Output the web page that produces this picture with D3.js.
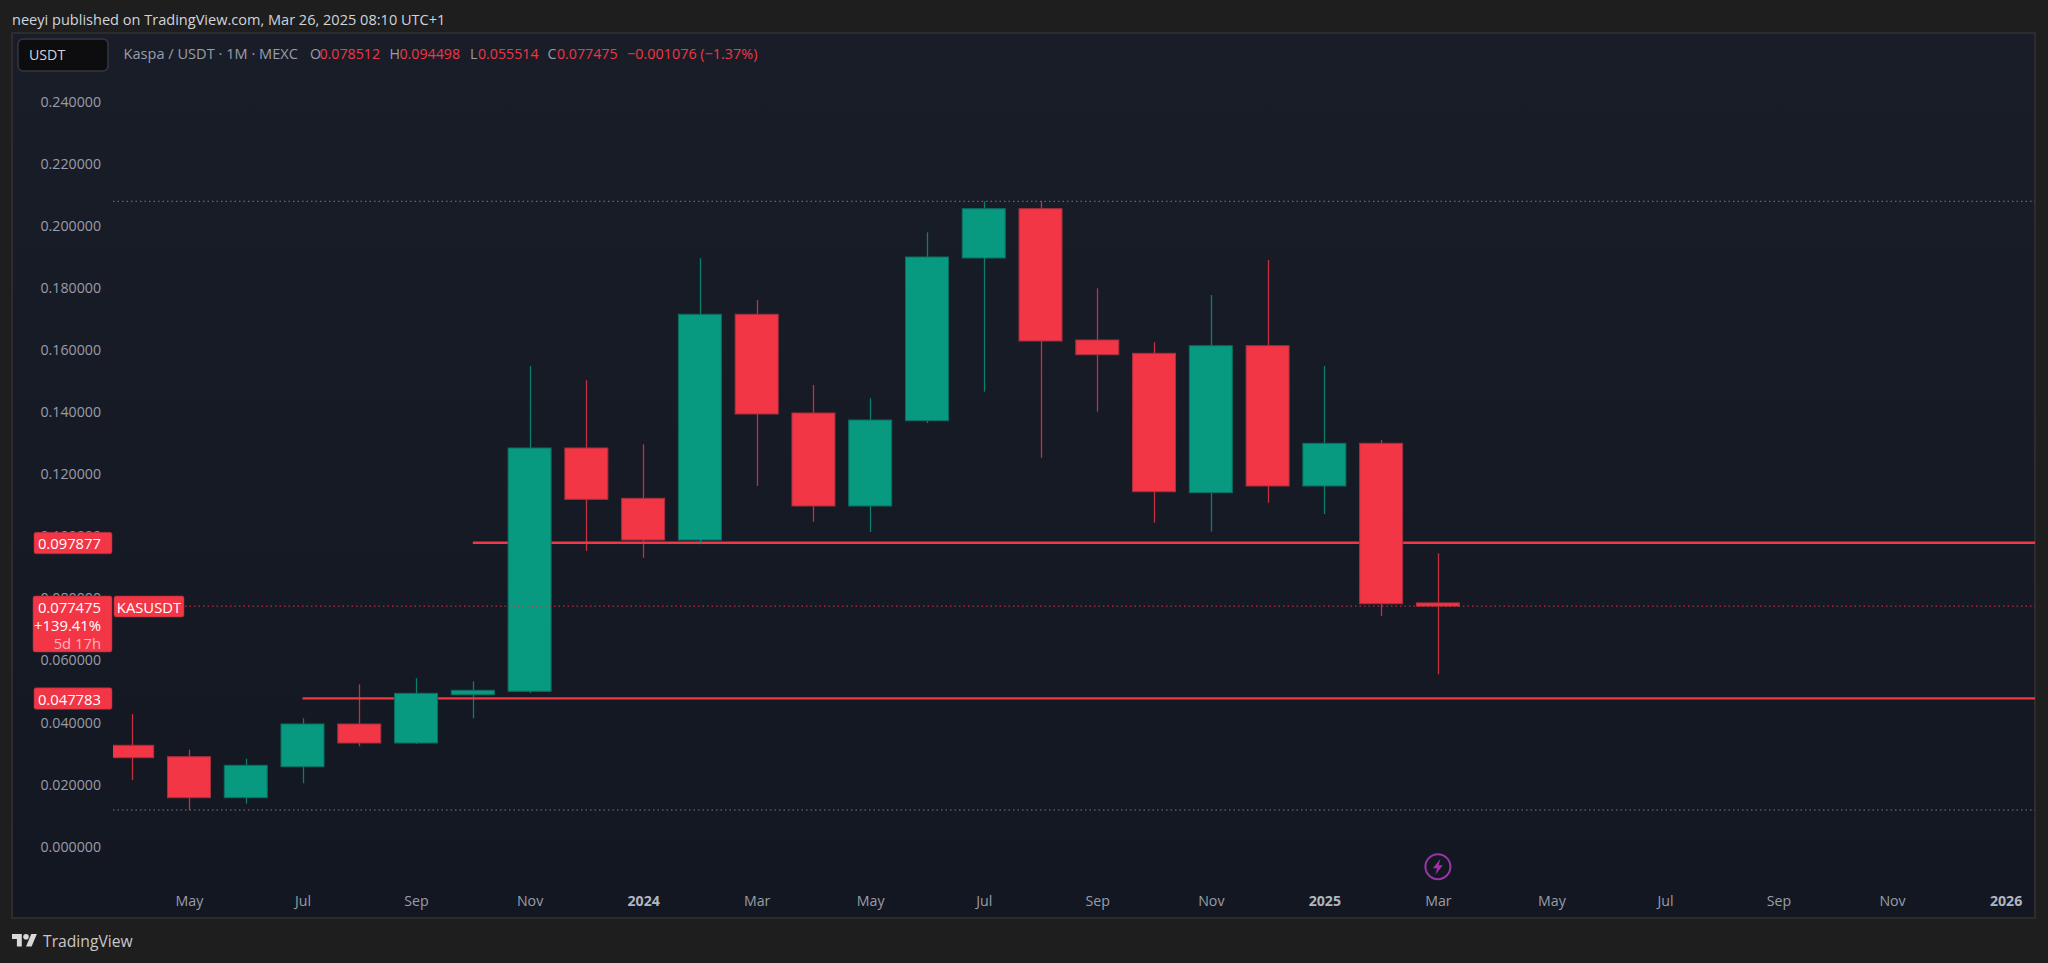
<!DOCTYPE html>
<html>
<head>
<meta charset="utf-8">
<title>Kaspa / USDT monthly</title>
<script src="https://cdn.jsdelivr.net/npm/d3@7/dist/d3.min.js"></script>
<style>
  html, body { margin: 0; padding: 0; background: #1e1e1e; overflow: hidden; }
  svg { display: block; }
  text { font-family: "Open Sans", "Noto Sans", sans-serif; }
</style>
</head>
<body>
<script>
// Monthly candles, Apr 2023 to Mar 2025
const candleMonths = ["2023-04","2023-05","2023-06","2023-07","2023-08","2023-09","2023-10","2023-11","2023-12",
  "2024-01","2024-02","2024-03","2024-04","2024-05","2024-06","2024-07","2024-08","2024-09","2024-10","2024-11","2024-12",
  "2025-01","2025-02","2025-03"];
const opens  = [0.03266,0.02899,0.01578,0.02576,0.03952,0.03340,0.04895,0.05005,0.12841,
  0.11220,0.09878,0.17147,0.13968,0.10973,0.13720,0.18960,0.20548,0.16319,0.15890,0.11401,0.16135,
  0.11617,0.12992,0.078512];
const highs  = [0.04274,0.03124,0.02834,0.04135,0.05230,0.05433,0.05327,0.15481,0.15021,
  0.12960,0.18950,0.17607,0.14870,0.14441,0.19787,0.20786,0.20786,0.17984,0.16245,0.17768,0.18895,
  0.15481,0.13098,0.094498];
const lows   = [0.02148,0.01182,0.01385,0.02042,0.03233,0.03308,0.04135,0.04950,0.09523,
  0.09308,0.09739,0.11617,0.10467,0.10135,0.13646,0.14654,0.12528,0.14010,0.10435,0.10145,0.11079,
  0.10715,0.07430,0.055514];
const closes = [0.02866,0.01578,0.02622,0.03952,0.03340,0.04940,0.05037,0.12841,0.11188,
  0.09878,0.17147,0.13936,0.10973,0.13742,0.18992,0.20548,0.16287,0.15845,0.11433,0.16135,0.11617,
  0.12992,0.07826,0.077475];

// Time axis slots, one per month through Jan 2026
const axisMonths = d3.utcMonths(new Date(Date.UTC(2023,3,1)), new Date(Date.UTC(2026,1,1))).map(d3.utcFormat("%Y-%m"));
const timeTicks = ["2023-05","2023-07","2023-09","2023-11","2024-01","2024-03","2024-05","2024-07","2024-09","2024-11",
  "2025-01","2025-03","2025-05","2025-07","2025-09","2025-11","2026-01"];
const priceTicks = [0,0.02,0.04,0.06,0.08,0.10,0.12,0.14,0.16,0.18,0.20,0.22,0.24];

// Drawn levels
const solidLevels = [{value:0.097877, from:"2023-10"}, {value:0.047783, from:"2023-07"}];
const dottedLevels = [0.20786, 0.01182];
const lastPrice = 0.077475;

const W = 2048, H = 963;
const pane = {left:12, top:33, right:2035, bottom:918};
const plotLeft = 113;

const GREEN = "#089981", RED = "#f23645";

const svg = d3.select("body").append("svg").attr("width", W).attr("height", H);
const defs = svg.append("defs");

const grad = defs.append("linearGradient").attr("id","paneFill").attr("x1",0).attr("y1",0).attr("x2",0).attr("y2",1);
grad.append("stop").attr("offset","0%").attr("stop-color","#191d28");
grad.append("stop").attr("offset","100%").attr("stop-color","#131722");

defs.append("clipPath").attr("id","plotClip").append("rect")
  .attr("x",plotLeft).attr("y",pane.top).attr("width",pane.right-plotLeft).attr("height",pane.bottom-pane.top);

const x = d3.scalePoint().domain(axisMonths).range([132.2, 2005.6]);
const y = d3.scaleLinear().domain([0,0.24]).range([846.7, 101.5]);

// Page and pane frame
svg.append("rect").attr("width",W).attr("height",H).attr("fill","#1e1e1e");
svg.append("rect").attr("x",pane.left).attr("y",pane.top)
  .attr("width",pane.right-pane.left).attr("height",pane.bottom-pane.top)
  .attr("fill","url(#paneFill)").attr("stroke","#2c2c2c").attr("stroke-width",2);

const labelColor = "#9a9da8";
const tickFont = 14.2;

// Price axis
const yAxis = svg.append("g").attr("transform","translate(101,0)")
  .call(d3.axisLeft(y).tickValues(priceTicks).tickFormat(d3.format(".6f")).tickSize(0).tickPadding(0));
yAxis.select(".domain").remove();
yAxis.selectAll("text").attr("fill",labelColor).attr("font-size",tickFont)
  .style("font-family",'"Open Sans", sans-serif');

// Time axis
const xAxis = svg.append("g").attr("transform","translate(0,896)")
  .call(d3.axisBottom(x).tickValues(timeTicks)
    .tickFormat(m => m.endsWith("-01") ? m.slice(0,4) : d3.utcFormat("%b")(d3.utcParse("%Y-%m")(m)))
    .tickSize(0).tickPadding(0));
xAxis.select(".domain").remove();
xAxis.selectAll("text")
  .attr("font-size",tickFont)
  .attr("font-weight", m => m.endsWith("-01") ? 700 : 400)
  .attr("fill", m => m.endsWith("-01") ? "#b2b5be" : labelColor)
  .style("font-family",'"Open Sans", sans-serif');

const plot = svg.append("g").attr("clip-path","url(#plotClip)");

// Dotted extremes
plot.selectAll("line.extreme").data(dottedLevels).join("line")
  .attr("class","extreme")
  .attr("x1",plotLeft).attr("x2",pane.right)
  .attr("y1",d=>y(d)).attr("y2",d=>y(d))
  .attr("stroke","#787b86").attr("stroke-width",1).attr("stroke-dasharray","1.5 3");

// Horizontal support levels sit behind the candles
plot.selectAll("line.level").data(solidLevels).join("line")
  .attr("class","level")
  .attr("x1",d=>x(d.from)).attr("x2",pane.right)
  .attr("y1",d=>y(d.value)).attr("y2",d=>y(d.value))
  .attr("stroke",RED).attr("stroke-width",2.4);

// Candles
const candles = candleMonths.map((m,i)=>({m, o:opens[i], h:highs[i], l:lows[i], c:closes[i]}));
const bodyW = 44;
const colorOf = d => d.c >= d.o ? GREEN : RED;

plot.selectAll("line.wick").data(candles).join("line")
  .attr("class","wick")
  .attr("x1",d=>Math.round(x(d.m))+0.5).attr("x2",d=>Math.round(x(d.m))+0.5)
  .attr("y1",d=>y(d.h)).attr("y2",d=>y(d.l))
  .attr("stroke",colorOf).attr("stroke-opacity",0.8).attr("stroke-width",1.3);

plot.selectAll("rect.body").data(candles).join("rect")
  .attr("class","body")
  .attr("x",d=>x(d.m)-bodyW/2+0.5)
  .attr("width",bodyW-1)
  .attr("y",d=>y(Math.max(d.o,d.c)))
  .attr("height",d=>Math.max(1,Math.abs(y(d.o)-y(d.c))))
  .attr("fill",colorOf)
  .attr("stroke",d=>d.c>=d.o ? "#0b6f60" : "#a8303f").attr("stroke-width",1);

// Last price line runs over the candles
svg.append("line")
  .attr("x1",185).attr("x2",pane.right)
  .attr("y1",y(lastPrice)).attr("y2",y(lastPrice))
  .attr("stroke",RED).attr("stroke-width",1).attr("stroke-dasharray","1.5 3").attr("opacity",0.9);

// Price tags on the left scale
const tagFont = 14.8;
function tag(x0, x1, y0, y1) {
  svg.append("rect").attr("x",x0).attr("y",y0).attr("width",x1-x0).attr("height",y1-y0)
    .attr("rx",2).attr("fill",RED).attr("stroke","#a02c3b").attr("stroke-width",0.6);
}
function tagText(str, xr, yc, color, anchor) {
  svg.append("text").attr("x",xr).attr("y",yc).attr("dy","0.36em")
    .attr("text-anchor",anchor||"end").attr("fill",color||"#ffffff")
    .attr("font-size",tagFont).attr("font-weight",500).text(str);
}
const fmtPrice = d3.format(".6f");
tag(34,112,y(0.097877)-10.5,y(0.097877)+11);
tagText(fmtPrice(0.097877),101,y(0.097877)+1);
tag(34,112,y(0.047783)-10.5,y(0.047783)+11);
tagText(fmtPrice(0.047783),101,y(0.047783)+1);
tag(33,112,596,652);
tagText(fmtPrice(lastPrice),101,607.5);
tagText("+139.41%",101,626);
tagText("5d 17h",101,643.5,"#ffb3bb");
tag(114,184,596,617);
tagText("KASUSDT",149,607.5,"#ffffff","middle");

// Header line
svg.append("text").attr("x",12).attr("y",25).attr("fill","#d1d4dc").attr("font-size",14.55)
  .text("neeyi published on TradingView.com, Mar 26, 2025 08:10 UTC+1");

// Symbol legend
svg.append("rect").attr("x",18).attr("y",39).attr("width",90).attr("height",32).attr("rx",5)
  .attr("fill","#0d0d0f").attr("stroke","#34373f").attr("stroke-width",1.5);
svg.append("text").attr("x",29).attr("y",60).attr("fill","#d1d4dc").attr("font-size",14.2).text("USDT");

const legendGrey = "#9a9da8", legendRed = "#f23645";
const legendParts = [
  ["Kaspa / USDT · 1M · MEXC",123.5,legendGrey,14.6],
  ["O",310,legendGrey,14.2],["0.078512",319.5,legendRed,14.2],
  ["H",389.5,legendGrey,14.2],["0.094498",399.5,legendRed,14.2],
  ["L",470,legendGrey,14.2],["0.055514",478,legendRed,14.2],
  ["C",547.5,legendGrey,14.2],["0.077475",557,legendRed,14.2],
  ["−0.001076 (−1.37%)",627,legendRed,14.4]
];
svg.selectAll("text.legend").data(legendParts).join("text").attr("class","legend")
  .attr("x",d=>d[1]).attr("y",59).attr("fill",d=>d[2]).attr("font-size",d=>d[3]).text(d=>d[0]);

// Purple event marker under March 2025
const marker = svg.append("g").attr("transform",`translate(${x("2025-03")},866.7)`);
marker.append("circle").attr("r",12.5).attr("fill","none").attr("stroke","#9c33a8").attr("stroke-width",2);
marker.append("path").attr("d","M2.5,-8 L-5,1.5 L-0.8,1.5 L-2.5,8 L5,-1.5 L0.8,-1.5 Z").attr("fill","#9c33a8");

// Footer wordmark
const logo = svg.append("g").attr("transform","translate(12,931.2) scale(0.7)").attr("fill","#d8d8d8");
logo.append("path").attr("d","M14 22H7V11H0V4h14v18zM28 22h-8l7.5-18h8L28 22z");
logo.append("circle").attr("cx",20).attr("cy",8).attr("r",4);
svg.append("text").attr("x",43).attr("y",947).attr("fill","#c8c8c8").attr("font-size",15.7).text("TradingView");
</script>
</body>
</html>
